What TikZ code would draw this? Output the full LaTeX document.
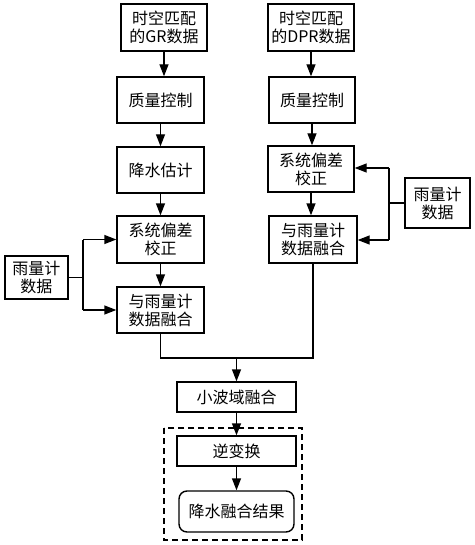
\documentclass[tikz,border=0pt]{standalone}
\usepackage{fontspec}
\setmainfont{Noto Sans CJK SC}
\usetikzlibrary{arrows.meta}
\begin{document}
\begin{tikzpicture}[x=1pt,y=-1pt,
  box/.style={draw,line width=1.4pt,align=center,inner sep=0pt,font=\fontsize{16}{18}\selectfont},
  arr/.style={line width=1.4pt,-{Triangle[length=12pt,width=9pt]}},
  ln/.style={line width=1.4pt}]
\useasboundingbox (0,0) rectangle (474,545);
\node[box,minimum width=86pt,minimum height=47pt] (gr) at (164,27.5) {时空匹配\\的GR数据};
\node[box,minimum width=86pt,minimum height=47pt] (dpr) at (311,27.5) {时空匹配\\的DPR数据};
\node[box,minimum width=87pt,minimum height=46pt] (qcL) at (160.5,100) {质量控制};
\node[box,minimum width=86pt,minimum height=46pt] (qcR) at (312,100) {质量控制};
\node[box,minimum width=87pt,minimum height=46pt] (est) at (160.5,170) {降水估计};
\node[box,minimum width=86pt,minimum height=46pt] (sbR) at (311,169) {系统偏差\\校正};
\node[box,minimum width=87pt,minimum height=47pt] (sbL) at (160.5,239.5) {系统偏差\\校正};
\node[box,minimum width=88pt,minimum height=47pt] (fuR) at (313,239.5) {与雨量计\\数据融合};
\node[box,minimum width=87pt,minimum height=46pt] (fuL) at (160.5,310) {与雨量计\\数据融合};
\node[box,minimum width=63pt,minimum height=43pt] (gL) at (36.5,277.5) {雨量计\\数据};
\node[box,minimum width=65pt,minimum height=50pt] (gR) at (437.5,203) {雨量计\\数据};
\node[box,minimum width=119pt,minimum height=30pt] (wav) at (236.5,397) {小波域融合};
\node[box,minimum width=119pt,minimum height=30pt] (inv) at (236.5,451) {逆变换};
\node[box,rounded corners=8pt,minimum width=115pt,minimum height=41pt] (res) at (236.5,511.5) {降水融合结果};
\draw[line width=1.4pt,dash pattern=on 6pt off 4pt] (164,428) rectangle (302,540);
% vertical arrows
\draw[arr] (gr.south) -- (gr.south |- qcL.north);
\draw[arr] (dpr.south) -- (dpr.south |- qcR.north);
\draw[arr] (qcL.south) -- (est.north);
\draw[arr] (qcR.south) -- (qcR.south |- sbR.north);
\draw[arr] (est.south) -- (sbL.north);
\draw[arr] (sbR.south) -- (sbR.south |- fuR.north);
\draw[arr] (sbL.south) -- (fuL.north);
\draw[arr] (wav.south) -- (inv.north);
\draw[arr] (inv.south) -- (res.north);
% right gauge
\coordinate (rT) at (389,168);
\coordinate (rB) at (389,240);
\draw[ln] (gR.west) -- (gR.west -| rT);
\draw[ln] (rT) -- (rB);
\draw[arr] (rT) -- (rT -| sbR.east);
\draw[arr] (rB) -- (rB -| fuR.east);
% left gauge
\coordinate (lT) at (83,239.5);
\coordinate (lB) at (83,310);
\draw[ln] (gL.east) -- (gL.east -| lT);
\draw[ln] (lT) -- (lB);
\draw[arr] (lT) -- (sbL.west);
\draw[arr] (lB) -- (fuL.west);
% merge
\coordinate (mL) at (160.5,358);
\coordinate (mM) at (236.5,358);
\draw[ln] (fuL.south) -- (mL) -- (mL -| fuR.south) -- (fuR.south);
\draw[arr] (mM) -- (wav.north);
\end{tikzpicture}
\end{document}
